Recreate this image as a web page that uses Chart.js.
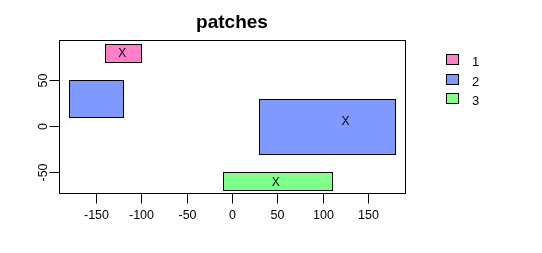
<!DOCTYPE html>
<html>
<head>
<meta charset="utf-8">
<script src="https://cdn.jsdelivr.net/npm/chart.js@4/dist/chart.umd.min.js"></script>
<style>
  html, body { margin: 0; padding: 0; background: #fff; }
  #wrap { width: 542px; height: 253px; }
</style>
</head>
<body>
<div id="wrap"><canvas id="c" width="542" height="253"></canvas></div>
<script>
// ---- data ----
const categories = ['1', '2', '3'];
const patchGroup = [1, 2, 2, 3];
const patchXMin = [-140, -180, 30, -10];
const patchXMax = [-100, -120, 180, 110];
const patchYMin = [70, 10, -30, -70];
const patchYMax = [90, 50, 30, -50];
const markX = [-121, 125, 48];
const markY = [80, 5, -61];
const xTicks = [-150, -100, -50, 0, 50, 100, 150];
const yTicks = [-50, 0, 50];
const title = 'patches';

const groupColors = ['#FF80C8', '#8099FF', '#80FF8C'];
const FONT = '"Liberation Sans", Arial, sans-serif';

const rPlot = {
  id: 'rPlot',
  beforeDatasetsDraw(chart) {
    const ctx = chart.ctx, xs = chart.scales.x, ys = chart.scales.y, a = chart.chartArea;
    ctx.save();
    ctx.fillStyle = '#fff';
    ctx.fillRect(0, 0, chart.width, chart.height);
    ctx.lineWidth = 1;
    ctx.strokeStyle = '#000';
    for (let i = 0; i < patchGroup.length; i++) {
      const x0 = Math.round(xs.getPixelForValue(patchXMin[i])) + 0.5;
      const x1 = Math.round(xs.getPixelForValue(patchXMax[i])) + 0.5;
      const y0 = Math.round(ys.getPixelForValue(patchYMax[i])) + 0.5;
      const y1 = Math.round(ys.getPixelForValue(patchYMin[i])) + 0.5;
      ctx.fillStyle = groupColors[patchGroup[i] - 1];
      ctx.fillRect(x0, y0, x1 - x0, y1 - y0);
      ctx.strokeRect(x0, y0, x1 - x0, y1 - y0);
    }
    ctx.restore();
  },
  afterDatasetsDraw(chart) {
    const ctx = chart.ctx, xs = chart.scales.x, ys = chart.scales.y, a = chart.chartArea;
    ctx.save();
    // X markers from dataset elements
    const meta = chart.getDatasetMeta(0);
    ctx.fillStyle = '#000';
    ctx.font = '12px ' + FONT;
    ctx.textAlign = 'center';
    ctx.textBaseline = 'middle';
    meta.data.forEach(pt => ctx.fillText('X', pt.x, pt.y + 0.5));

    // box
    ctx.strokeStyle = '#000';
    ctx.lineWidth = 1;
    const L = Math.round(a.left) + 0.5, R = Math.round(a.right) + 0.5;
    const T = Math.round(a.top) + 0.5, B = Math.round(a.bottom) + 0.5;
    ctx.strokeRect(L, T, R - L, B - T);

    // x ticks
    ctx.font = '12.5px ' + FONT;
    ctx.textAlign = 'center';
    ctx.textBaseline = 'alphabetic';
    xTicks.forEach(v => {
      const px = Math.round(xs.getPixelForValue(v)) + 0.5;
      ctx.beginPath(); ctx.moveTo(px, B); ctx.lineTo(px, B + 10); ctx.stroke();
      ctx.fillText(String(v), px, 219);
    });
    // y ticks
    yTicks.forEach(v => {
      const py = Math.round(ys.getPixelForValue(v)) + 0.5;
      ctx.beginPath(); ctx.moveTo(L, py); ctx.lineTo(L - 10, py); ctx.stroke();
      ctx.save();
      ctx.translate(47, py);
      ctx.rotate(-Math.PI / 2);
      ctx.fillText(String(v), 0, 0);
      ctx.restore();
    });

    // title
    ctx.font = 'bold 19px ' + FONT;
    ctx.textAlign = 'center';
    ctx.fillText(title, (a.left + a.right) / 2, 28);

    // legend
    ctx.font = '13px ' + FONT;
    ctx.textAlign = 'left';
    categories.forEach((c, i) => {
      const by = Math.round(54 + i * 19.5) + 0.5;
      ctx.fillStyle = groupColors[i];
      ctx.fillRect(446.5, by, 12, 10);
      ctx.strokeRect(446.5, by, 12, 10);
      ctx.fillStyle = '#000';
      ctx.fillText(c, 472, 66 + i * 19.5);
    });
    ctx.restore();
  }
};

new Chart(document.getElementById('c'), {
  type: 'scatter',
  data: {
    datasets: [{
      data: markX.map((x, i) => ({ x: x, y: markY[i] })),
      pointRadius: 0,
      pointHoverRadius: 0
    }]
  },
  options: {
    responsive: false,
    animation: false,
    events: [],
    layout: { autoPadding: false, padding: { left: 59, right: 137, top: 40, bottom: 60 } },
    plugins: { legend: { display: false }, tooltip: { enabled: false }, title: { display: false } },
    scales: {
      x: { type: 'linear', display: false, min: -190.8, max: 190.6 },
      y: { type: 'linear', display: false, min: -73.1, max: 93.9 }
    }
  },
  plugins: [rPlot]
});
</script>
</body>
</html>
